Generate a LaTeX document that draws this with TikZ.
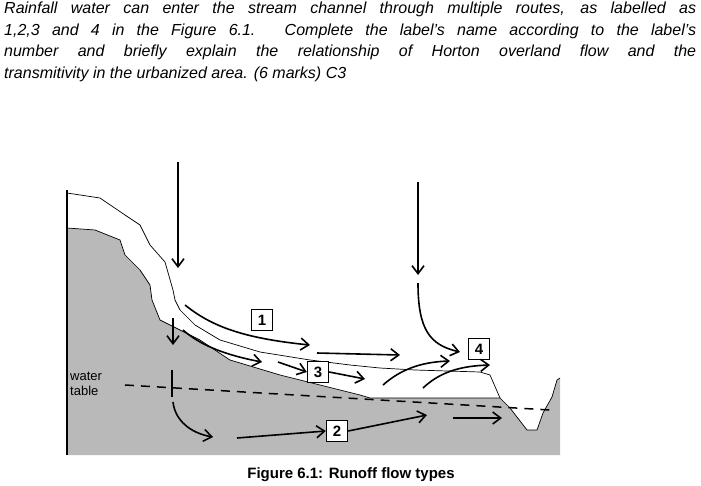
\documentclass[tikz,border=0pt]{standalone}
\usepackage{fontspec}
\setmainfont{Liberation Sans}
\usetikzlibrary{arrows.meta}
\begin{document}
\begin{tikzpicture}[x=1pt,y=-1pt,
  flow/.style={line width=1.6pt,-{Straight Barb[length=8pt,width=12pt]}},
  lbl/.style={draw,line width=1.4pt,fill=white,minimum size=21pt,inner sep=0pt,font=\bfseries\fontsize{15}{15}\selectfont},
  edge/.style={line width=0.7pt}]
\useasboundingbox (0,0) rectangle (701,485);
\node[anchor=north west,text width=692pt,align=justify,inner sep=0pt,font=\itshape\fontsize{16}{21.5}\selectfont] (q) at (4,2)
{Rainfall water can enter the stream channel through multiple routes, as labelled as\linebreak 1,2,3 and 4 in the Figure 6.1. Complete the label’s name according to the label’s\linebreak number and briefly explain the relationship of Horton overland flow and the\linebreak transmitivity in the urbanized area. (6 marks) C3};
% gray ground
\fill[gray!55] (67,228) -- (95,230) -- (120,240) -- (125,255) -- (140,270) -- (150,285) -- (152,300) -- (160,320) -- (180,330) -- (200,340) -- (230,360) -- (280,375) -- (320,385) -- (360,395) -- (370,398) -- (500,398) -- (510,408) -- (527,430) -- (537,430) -- (543,413) -- (552,397) -- (557,380) -- (560,378) -- (560,455) -- (67,455) -- cycle;
\draw[edge] (67,228) -- (95,230) -- (120,240) -- (125,255) -- (140,270) -- (150,285) -- (152,300) -- (160,320) -- (180,330) -- (200,340) -- (230,360) -- (280,375) -- (320,385) -- (360,395) -- (370,398) -- (500,398) -- (510,408) -- (527,430) -- (537,430) -- (543,413) -- (552,397) -- (557,380) -- (560,378);
% surface
\draw[edge] (67,193) -- (100,198) -- (125,215) -- (140,225) -- (150,245) -- (165,262) -- (173,290) -- (175,300) -- (180,310) -- (195,325) -- (220,340) -- (260,352) -- (310,360) -- (350,365) -- (380,368) -- (415,370) -- (480,372) -- (490,375) -- (500,398);
\draw[line width=1.2pt] (67,190) -- (67,455);
% water table
\draw[line width=1.5pt,dash pattern=on 9pt off 7pt] (125,385) -- (550,410);
\draw[line width=1.5pt] (172,370) -- (172,397);
\node[anchor=west,inner sep=0pt,font=\fontsize{13}{13}\selectfont] (wt1) at (70,376) {water};
\node[anchor=west,inner sep=0pt,font=\fontsize{13}{13}\selectfont] (wt2) at (70,391) {table};
% rain
\coordinate (r1a) at (178,162); \coordinate (r1b) at (178,268);
\draw[flow] (r1a) -- (r1b);
\coordinate (r2a) at (418,182); \coordinate (r2b) at (418,275);
\draw[flow] (r2a) -- (r2b);
% labels
\node[lbl] (b1) at (262,320) {1};
\node[lbl] (b2) at (337,431) {2};
\node[lbl] (b3) at (318,372) {3};
\node[lbl] (b4) at (479,349) {4};
% flows
\draw[flow] (418,283) .. controls (418,330) and (430,345) .. (460,352);
\draw[flow] (185,305) .. controls (210,325) and (240,338) .. (310,345);
\draw[flow] (183,330) .. controls (200,345) and (225,355) .. (262,362);
\draw[flow] (317,353) -- (400,355);
\draw[flow] (278,362) -- (b3.west);
\draw[flow] (b3.east) -- (365,379);
\draw[flow] (383,385) .. controls (400,370) and (420,362) .. (450,361);
\draw[flow] (423,388) .. controls (440,372) and (460,366) .. (490,365);
\draw[flow] (173,318) -- (173,345);
\draw[flow] (173,402) .. controls (175,420) and (190,433) .. (213,437);
\draw[flow] (237,438) -- (b2.west);
\draw[flow] (b2.east) -- (427,415);
\draw[flow] (453,418) -- (502,418);
\node[font=\bfseries\fontsize{15}{15}\selectfont] (cap) at (351,475) {Figure 6.1: Runoff flow types};
\end{tikzpicture}
\end{document}
